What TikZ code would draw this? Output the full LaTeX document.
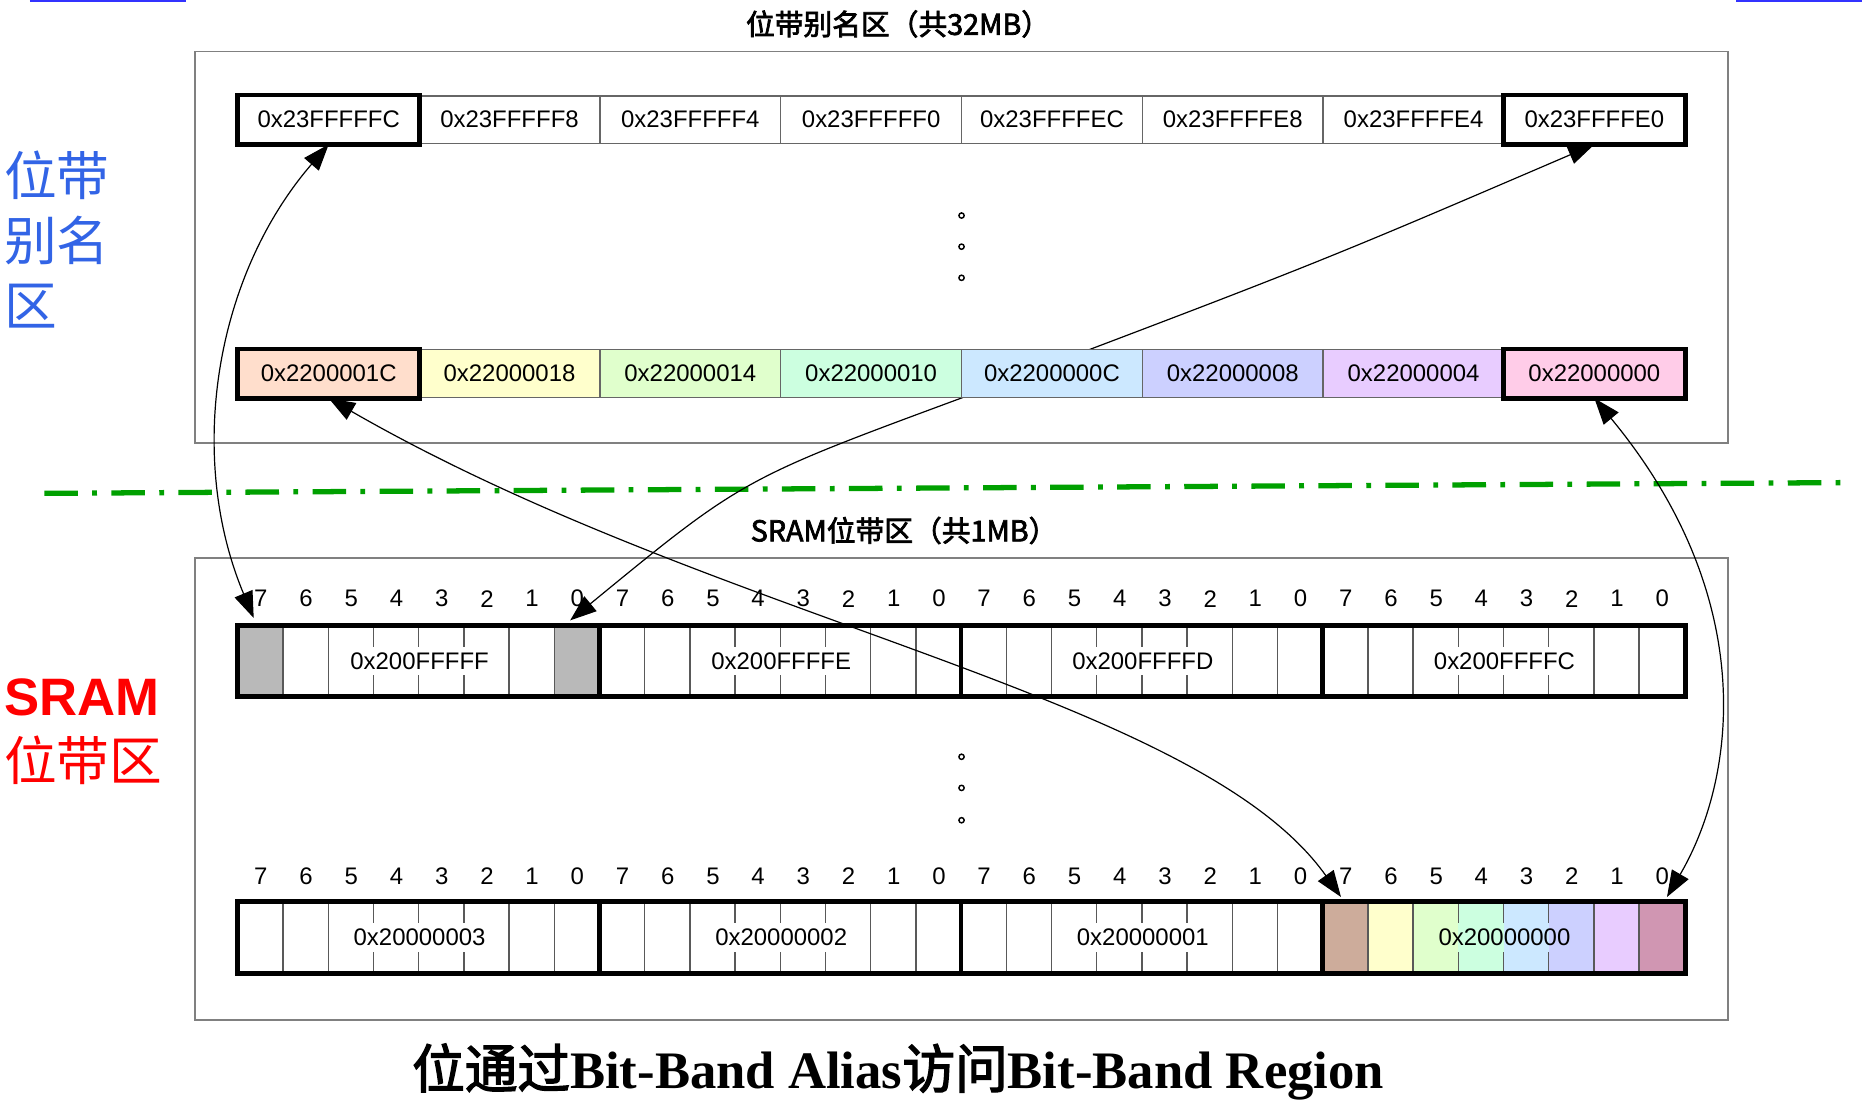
\documentclass[tikz,border=0pt]{standalone}
\usepackage{fontspec}
\setmainfont{Liberation Serif}
\newfontfamily\sansf{Liberation Sans}
\newfontfamily\cjk[AutoFakeBold=2.5]{Noto Sans CJK SC}
\usetikzlibrary{arrows.meta}
\definecolor{c0}{RGB}{255,222,204}
\definecolor{c1}{RGB}{255,255,204}
\definecolor{c2}{RGB}{224,255,204}
\definecolor{c3}{RGB}{204,255,224}
\definecolor{c4}{RGB}{204,232,255}
\definecolor{c5}{RGB}{204,208,255}
\definecolor{c6}{RGB}{232,204,255}
\definecolor{c7}{RGB}{255,204,232}
\definecolor{d0}{RGB}{205,172,155}
\definecolor{d7}{RGB}{208,150,178}
\definecolor{lblue}{RGB}{50,100,230}
\definecolor{dgreen}{RGB}{0,160,0}
\tikzset{
 cell/.style={draw=gray!80!black,line width=0.6pt,minimum width=75.5pt,minimum height=20pt,inner sep=0pt,font=\sansf\fontsize{10}{12}\selectfont},
 bit/.style={minimum width=18.875pt,minimum height=29.5pt,inner sep=0pt},
 bitlbl/.style={font=\sansf\fontsize{10}{12}\selectfont},
 box/.style={draw=gray,line width=0.7pt},
 arr/.style={{Triangle[length=11pt,width=8pt]}-{Triangle[length=11pt,width=8pt]},line width=0.5pt},
 ttl/.style={font=\cjk\bfseries\fontsize{12}{14}\selectfont}
}
\begin{document}
\begin{tikzpicture}[x=0.5pt,y=-0.5pt]
\useasboundingbox[fill=white] (0,0) rectangle (1560,925);
\draw[blue!80,line width=0.8pt] (25,1)--(155,1) (1450,1)--(1555,1);
\node[ttl] (t1) at (750,20) {位带别名区（共32MB）};
\node[ttl] (t2) at (755,443) {SRAM位带区（共1MB）};
\draw[box] (163,43) rectangle (1443,370);
\draw[box] (163,466) rectangle (1443,852);
\draw[dgreen,line width=2.2pt,dash pattern=on 14pt off 6pt on 2pt off 6pt] (37,412)--(1545,403);
% alias rows
\foreach \lab [count=\i from 0] in {0x23FFFFFC,0x23FFFFF8,0x23FFFFF4,0x23FFFFF0,0x23FFFFEC,0x23FFFFE8,0x23FFFFE4,0x23FFFFE0}
  \node[cell] (a\i) at ({199+151*(\i+0.5)},100) {\lab};
\draw[black,line width=2pt] (a0.north west) rectangle (a0.south east) (a7.north west) rectangle (a7.south east);
\foreach \y in {180,206,232,632,658,685} \draw[line width=0.6pt] (803,\y) circle (2.2);
% SRAM rows
\foreach \row/\yc/\yl in {1/552/500,2/783/732}{
 \foreach \byte in {0,...,3}{
  \foreach \b in {0,...,7}{
   \node[bit] (r\row-\byte-\b) at ({199+302*\byte+37.75*(7-\b)+18.875},\yc) {};
   \node[bitlbl] (l\row-\byte-\b) at ({199+302*\byte+37.75*(7-\b)+18.875},\yl) {\b};
  }
 }
}
\fill[gray!55] (r1-0-7.north west) rectangle (r1-0-7.south east);
\fill[gray!55] (r1-0-0.north west) rectangle (r1-0-0.south east);
\foreach \b/\c in {7/d0,6/c1,5/c2,4/c3,3/c4,2/c5,1/c6,0/d7}
  \fill[\c] (r2-3-\b.north west) rectangle (r2-3-\b.south east);
\foreach \row in {1,2}{
 \foreach \byte in {0,...,3}{
  \foreach \b in {6,5,1,0} \draw[gray!70!black,line width=0.6pt] (r\row-\byte-\b.north west)--(r\row-\byte-\b.south west);
  \foreach \b in {4,3,2} {\draw[gray!70!black,line width=0.6pt] (r\row-\byte-\b.north west)--++(0,18) (r\row-\byte-\b.south west)--++(0,-18);}
 }
 \foreach \byte in {1,2,3} \draw[line width=2pt] (r\row-\byte-7.north west)--(r\row-\byte-7.south west);
 \draw[line width=2pt] (r\row-0-7.north west) rectangle (r\row-3-0.south east);
}
\foreach \row/\labs in {1/{0x200FFFFF,0x200FFFFE,0x200FFFFD,0x200FFFFC},2/{0x20000003,0x20000002,0x20000001,0x20000000}}
 \foreach \lab [count=\k from 0] in \labs
  \node[font=\sansf\fontsize{10}{12}\selectfont] (n\row-\k) at (r\row-\k-4.east) {\lab};
% arrow 3 (partly hidden)
\coordinate (m) at (804,332);
\draw[arr] ([xshift=-3pt,yshift=2pt]r1-0-0.north) .. controls (620,400) .. (m) .. controls (1100,220) .. (a7.south);
\foreach \lab [count=\i from 0] in {0x2200001C,0x22000018,0x22000014,0x22000010,0x2200000C,0x22000008,0x22000004,0x22000000}
  \node[cell,fill=c\i] (b\i) at ({199+151*(\i+0.5)},312) {\lab};
\draw[black,line width=2pt] (b0.north west) rectangle (b0.south east) (b7.north west) rectangle (b7.south east);
% arrows
\draw[arr] ([xshift=-3pt,yshift=3pt]r1-0-7.north) .. controls (155,380) and (180,230) .. (a0.south);
\draw[arr] (b0.south) .. controls (600,520) and (1000,580) .. ([xshift=-2pt,yshift=2pt]r2-3-7.north);
\draw[arr] (b7.south) .. controls (1470,500) and (1450,650) .. ([xshift=2pt,yshift=2pt]r2-3-0.north);
% side labels
\node[anchor=west,text=lblue,font=\cjk\fontsize{22}{25}\selectfont,align=left,inner sep=0pt] (s1) at (3,200) {位带\\[2pt]别名\\[2pt]区};
\node[anchor=west,text=red,font=\sansf\bfseries\fontsize{22}{25}\selectfont,inner sep=0pt] (s2) at (3,582) {SRAM};
\node[anchor=west,text=red,font=\cjk\fontsize{22}{25}\selectfont,inner sep=0pt] (s3) at (3,635) {位带区};
\node[font=\fontsize{22}{26}\selectfont\bfseries] (cap) at (750,895) {{\cjk 位通过}Bit-Band Alias{\cjk 访问}Bit-Band Region};
\end{tikzpicture}
\end{document}
